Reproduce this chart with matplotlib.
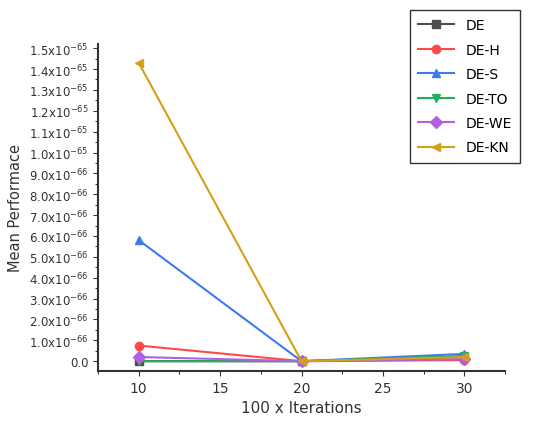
import matplotlib
matplotlib.use("Agg")
import matplotlib.pyplot as plt
from matplotlib.ticker import FuncFormatter, MultipleLocator

x = [10, 20, 30]
names = ["DE", "DE-H", "DE-S", "DE-TO", "DE-WE", "DE-KN"]
vals = {
    "DE":    [0.0, 0.0, 0.2e-66],
    "DE-H":  [0.75e-66, 0.0, 0.05e-66],
    "DE-S":  [5.8e-66, 0.0, 0.35e-66],
    "DE-TO": [0.0, 0.0, 0.25e-66],
    "DE-WE": [0.2e-66, 0.0, 0.1e-66],
    "DE-KN": [1.43e-65, 0.0, 0.2e-66],
}
colors = ["#4d4d4d", "#ff4a4a", "#3b7cf0", "#20b060", "#b060e0", "#d4a017"]
markers = ["s", "o", "^", "v", "D", "<"]

fig = plt.figure(figsize=(5.5, 4.31), dpi=100)
ax = fig.add_axes([98/550, 59/431, 407/550, 327/431])
for n, c, m in zip(names, colors, markers):
    ax.plot(x, vals[n], color=c, marker=m, markersize=6, lw=1.5, label=n)

ax.set_xlim(7.5, 32.5)
ax.set_ylim(-0.47e-66, 1.52e-65)
ax.xaxis.set_major_locator(MultipleLocator(5))
ax.xaxis.set_minor_locator(MultipleLocator(2.5))
ax.yaxis.set_major_locator(MultipleLocator(1e-66))
ax.yaxis.set_minor_locator(MultipleLocator(0.5e-66))

def fmt(v, pos):
    if abs(v) < 1e-70:
        return "0.0"
    e = -66 if v < 0.95e-65 else -65
    m = v / 10**e
    return r"%.1fx10$^{%d}$" % (m, e)
ax.yaxis.set_major_formatter(FuncFormatter(fmt))
ax.tick_params(labelsize=8.5, colors="#333333")
ax.tick_params(axis="x", labelsize=10)
for s in ["top", "right"]:
    ax.spines[s].set_visible(False)
for s in ["left", "bottom"]:
    ax.spines[s].set_color("#333333")
    ax.spines[s].set_linewidth(1.5)
ax.set_xlabel("100 x Iterations", fontsize=11, color="#333333")
ax.set_ylabel("Mean Performace", fontsize=10.5, color="#333333")
fig.legend(loc="upper right", bbox_to_anchor=(527/550, 1 - 4/431), fontsize=10,
           fancybox=False, edgecolor="#333333", framealpha=1,
           labelspacing=0.75, handlelength=2.6, borderpad=0.6)
fig.savefig("out.png")
